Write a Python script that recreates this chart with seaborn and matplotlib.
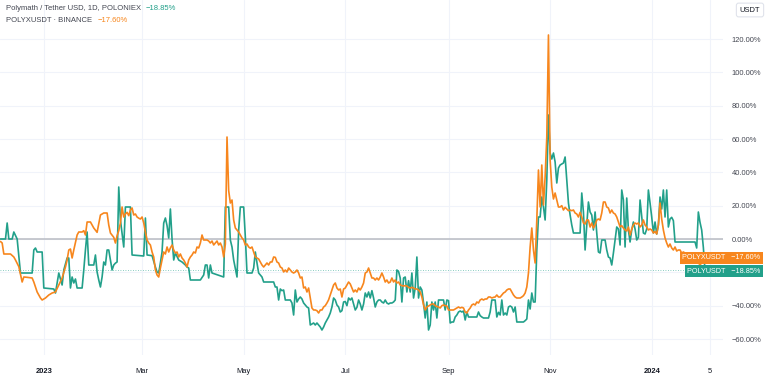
import numpy as np
import pandas as pd
import matplotlib
matplotlib.use("Agg")
import matplotlib.pyplot as plt
import seaborn as sns

# days counted from the first bar of the chart
start = pd.Timestamp("2022-12-06")

# Polymath / Tether USD, 1D, POLONIEX  (% change)
poly_days = [0, 3, 4, 5, 7, 8, 10, 11, 12, 19, 20, 21, 22, 25, 26, 32, 33, 34, 35, 36,
             37, 38, 40, 41, 42, 43, 44, 45, 46, 49, 50, 51, 52, 53, 56, 57, 58, 59, 60, 61,
             62, 63, 64, 65, 67, 68, 69, 70, 71, 72, 74, 75, 78, 79, 86, 87, 88, 91, 93, 94,
             95, 96, 97, 98, 99, 100, 101, 102, 103, 104, 105, 107, 109, 111, 112, 113, 114, 120, 122, 123,
             124, 125, 126, 127, 134, 135, 137, 138, 139, 140, 142, 143, 144, 146, 147, 148, 151, 152, 153, 154,
             155, 156, 157, 158, 164, 165, 166, 167, 168, 169, 170, 171, 174, 175, 176, 177, 178, 179, 180, 181,
             182, 183, 184, 185, 186, 188, 189, 190, 191, 192, 193, 194, 195, 196, 197, 198, 199, 200, 201, 202,
             203, 204, 205, 206, 207, 208, 209, 210, 211, 212, 213, 214, 215, 216, 217, 218, 219, 220, 221, 222,
             223, 224, 225, 226, 227, 228, 229, 230, 231, 232, 233, 234, 235, 236, 237, 238, 239, 240, 241, 242,
             243, 244, 245, 246, 247, 248, 249, 250, 251, 252, 253, 254, 255, 256, 257, 258, 259, 260, 261, 262,
             263, 266, 267, 268, 269, 270, 271, 272, 273, 274, 275, 276, 277, 278, 279, 280, 281, 286, 287, 288,
             289, 290, 293, 294, 295, 297, 298, 299, 300, 301, 302, 303, 304, 305, 306, 307, 308, 309, 310, 314,
             315, 316, 317, 318, 319, 320, 321, 322, 323, 324, 325, 326, 327, 328, 329, 330, 331, 332, 333, 334,
             335, 336, 338, 339, 340, 341, 342, 343, 344, 348, 349, 350, 351, 352, 353, 354, 355, 356, 357, 358,
             359, 360, 361, 363, 364, 365, 366, 367, 368, 369, 370, 371, 372, 373, 374, 375, 376, 377, 378, 379,
             380, 381, 382, 383, 384, 385, 386, 387, 388, 389, 390, 391, 392, 393, 394, 395, 396, 397, 398, 399,
             400, 401, 402, 403, 404, 405, 417, 418, 419, 420, 421, 422, 423]
poly_pct = [0, 0, 9.6, 0, 0, 4.2, 0, -10, -20.4, -20.4, -6.6, -5.4, -7.8, -7.8, -29.4, -30, -32.4, -26.4, -20.4, -24,
            -27.6, -18.6, -11.4, -11.4, -29.4, -22.8, -26.4, -24, -29.4, -29.4, -18.6, -6.6, 4.2, -15.6, -15.6, -9.6, -19.8, -24.6, -28.8, -22.8,
            -13.8, -15.6, -6.6, -6.6, -18.6, -15.6, -14.5, -13.8, 31.2, 11.4, -4.8, 19.2, 19.2, -9.6, -10.2, 12.6, -9.6, -10, -16.8, -19.8,
            -20.4, -14.4, -7.8, 9.6, 12.6, 8, 0.6, 18, 0, -12.6, -8.4, -12.6, -13.8, -15.6, -16.8, -17.4, -24.6, -24.6, -21.6, -15.6,
            -15.6, -23.4, -15.6, -20.4, -22.8, 19.2, 19.2, -0.6, -4.8, -12.6, -22.8, 5.4, 19.2, 19.2, 1.2, -20.4, -20.4, -17.4, -7.8, -14.4,
            -20.4, -21.6, -22.8, -25.8, -25.8, -28.8, -28.8, -36.6, -30, -31, -30.6, -36.6, -36.6, -38.4, -45.6, -30.6, -37.8, -36, -34.8, -36,
            -38.4, -39.6, -40.8, -41.4, -51.6, -50.4, -51.6, -50.4, -51.6, -52.8, -54.6, -52.8, -50.4, -48.6, -46.8, -44.4, -40.8, -35.4, -36.6, -39.6,
            -40.8, -43.8, -43, -37.8, -37.5, -40, -35.4, -36.6, -35.4, -39, -42.6, -41, -36.6, -39, -42.6, -39, -32.4, -34.8, -31.8, -35.4,
            -31, -35.4, -40.8, -37.8, -36.6, -36.6, -37.8, -38.4, -36.6, -38.4, -39, -38.4, -38.4, -37.8, -36.6, -18.6, -19.5, -23.4, -37.8, -23.4,
            -22.8, -31.8, -25, -31.8, -20.4, -35.4, -29.4, -10.8, -35.4, -28.8, -30.6, -38.4, -47.4, -37.8, -54.6, -51.6, -37.8, -42.6, -37.8, -47.4,
            -36.6, -36.6, -42.6, -36.6, -37, -50.4, -49.8, -49.8, -46.8, -45.6, -43.8, -43.2, -43.8, -43.2, -48.6, -43.8, -46.8, -46.8, -43.8, -46,
            -46.8, -47.4, -47.4, -43.8, -36.6, -36.6, -46.8, -44, -45.6, -36.6, -45.6, -44.4, -45.6, -40.8, -40.2, -40.8, -43.8, -40.8, -49.8, -49.8,
            -49, -48, -36.6, -42, -32.4, -37.8, -37.8, -6.6, 13.2, 13.2, 25.2, 19.2, 11.4, 35.4, 74.4, 51.6, 48, 51.6, 46.2, 33.6,
            42.6, 44.4, 45.6, 49.2, 35.4, 21.6, 14.4, 8.4, 3.6, 3.6, 27.6, 16.2, -6.6, 8.4, 22.2, 16.2, 14.4, 5.4, 16.2, 3.6,
            -7.8, -8.4, -0.6, -0.6, -6.6, -10.8, -11.4, -15.6, -8.4, -0.6, 7.2, 6, -3.6, 29.4, 23.4, -4.8, 24.6, 5.4, -1.8, 5.4,
            10.2, 6, -0.6, 1, 23.4, 13.2, 3.6, 3, 6, 29.4, 21.6, 13.2, 3.6, 10.2, 3, 8.4, 25.2, 18, 29.4, 13.2,
            29.4, 7.2, 12, 13, 11, -1.8, -1.8, -5.4, 16.2, 10, 5.4, -5, -18.85]

# POLYXUSDT · BINANCE  (% change)
polyx_days = [0, 1, 2, 6, 8, 9, 11, 13, 14, 16, 19, 20, 22, 24, 25, 27, 29, 31, 33, 35,
              37, 39, 40, 41, 42, 43, 44, 46, 47, 49, 50, 51, 52, 54, 56, 58, 60, 62, 64, 65,
              66, 68, 69, 70, 71, 72, 73, 74, 75, 76, 77, 78, 79, 80, 81, 82, 83, 84, 85, 86,
              87, 88, 89, 90, 91, 92, 93, 94, 95, 96, 97, 98, 99, 100, 101, 102, 103, 104, 105, 106,
              107, 108, 109, 110, 111, 112, 113, 114, 115, 116, 117, 118, 119, 120, 121, 122, 123, 124, 125, 126,
              127, 128, 129, 130, 131, 132, 133, 134, 135, 136, 137, 138, 139, 140, 141, 143, 144, 145, 146, 147,
              148, 149, 150, 151, 152, 153, 154, 155, 156, 157, 158, 159, 160, 161, 162, 163, 164, 165, 166, 167,
              168, 169, 170, 171, 172, 173, 174, 175, 176, 177, 178, 179, 180, 181, 182, 183, 184, 185, 186, 187,
              188, 189, 190, 191, 192, 193, 194, 195, 196, 197, 198, 199, 200, 201, 202, 203, 204, 205, 206, 207,
              209, 210, 211, 212, 213, 214, 215, 216, 217, 218, 219, 220, 221, 222, 223, 224, 225, 226, 227, 228,
              229, 230, 231, 232, 233, 234, 235, 236, 237, 238, 239, 240, 241, 242, 243, 244, 245, 246, 247, 248,
              249, 250, 251, 252, 253, 254, 255, 256, 257, 258, 259, 260, 261, 262, 263, 264, 265, 266, 267, 268,
              269, 270, 271, 272, 273, 274, 275, 276, 277, 278, 279, 280, 281, 282, 283, 284, 285, 286, 287, 288,
              289, 290, 291, 292, 293, 294, 295, 296, 297, 298, 299, 300, 301, 302, 303, 304, 305, 306, 307, 308,
              309, 310, 311, 312, 313, 314, 315, 316, 317, 318, 319, 320, 321, 322, 323, 324, 325, 326, 327, 328,
              329, 330, 331, 332, 333, 334, 335, 336, 337, 338, 339, 340, 341, 342, 343, 344, 345, 346, 347, 348,
              349, 350, 351, 352, 353, 354, 355, 356, 357, 358, 359, 360, 361, 362, 363, 364, 365, 366, 367, 368,
              369, 370, 371, 372, 373, 374, 375, 376, 377, 378, 379, 380, 381, 382, 383, 384, 385, 386, 387, 388,
              389, 390, 391, 392, 393, 394, 395, 396, 397, 398, 399, 400, 401, 402, 403, 404, 405, 406, 407, 408,
              409, 410, 411, 423]
polyx_pct = [-1.5, -2.4, -9, -9, -10.8, -12.6, -16.6, -25.8, -22.8, -23, -23.4, -25.8, -31.8, -35.4, -36.6, -35.4, -33.6, -32.4, -31.8, -27.6,
             -23.4, -16.8, -12.6, -6.6, -6, -11.4, -6.6, 2.4, 4.2, 4.2, 5, 2.4, 10.2, 10.2, 6.6, 4, 14.4, 15.6, 15.6, 8.4,
             3.6, 1, -2.4, 2, 5, 9.6, 19.2, 13.2, 15, 16, 14, 17.4, 18.6, 14.4, 15, 13.2, 12.5, 12, 13.2, 9.6,
             4.2, -0.6, -2.4, -3.6, -7.8, -10.8, -18.6, -21.6, -22.8, -17.4, -12.6, -7.8, -9, -4.8, -7.8, -5.4, -3.6, -6.6, -8.4, -7.8,
             -10.8, -9, -11.4, -12.6, -14.4, -16.8, -12.6, -10.8, -9.6, -7.8, -8.4, -4.8, -5.4, -2.4, 2.4, -0.6, -0.6, -0.6, -1.2, -2.4,
             -1.2, -3.6, -2.4, -1.2, -3.6, -2.4, -4.8, -10.8, -3, 61.2, 29, 21.6, 23.4, 11.4, 6.6, 4.2, 2.4, 0.6, -0.6, -3.6,
             -3, -4.8, -5.5, -4.8, -7.8, -10.8, -11.4, -12, -13.8, -15.6, -16.8, -15.6, -14.4, -15.6, -13.8, -13.8, -10.8, -11, -13.8, -14.4,
             -16.8, -17.4, -19.8, -18.6, -19.8, -17.4, -18.6, -19.8, -20.4, -19.8, -18.6, -20.4, -23.4, -22.8, -29.4, -28.8, -31.8, -29.4, -35.4, -41.4,
             -42.6, -42.6, -43, -44.4, -42.6, -42.6, -40.8, -40, -38.4, -36.5, -33.6, -30.6, -27.6, -26.4, -29.4, -30.6, -30, -34.8, -30, -29.4,
             -25.8, -27, -29.4, -31.8, -30.6, -31.8, -29.4, -30.6, -28.8, -26.4, -20.4, -19.8, -17.4, -20.4, -23.4, -23.4, -24.6, -23.4, -24.6, -22.8,
             -20.4, -22.8, -25.8, -24.6, -26.4, -25.8, -23.4, -25.8, -24.6, -26.4, -25.8, -27.6, -28, -28.2, -28, -28.2, -29, -29.4, -29, -29.4,
             -30, -30, -30.6, -31.8, -34.8, -39.6, -42.6, -40.8, -40.2, -39.6, -39, -39, -40, -40.5, -40.8, -41.4, -40, -39.6, -40, -40.2,
             -42.6, -42.6, -42.6, -42.6, -42, -41.4, -40.8, -41.4, -41, -41.4, -43.8, -44.4, -42.6, -41.4, -39.6, -39, -39.6, -37.8, -38.4, -36.6,
             -36, -36.6, -36, -36, -34.8, -34.8, -35.4, -35, -34.8, -33.6, -34.8, -34.8, -33.6, -32.4, -31.8, -30.6, -30, -30, -31.8, -33.6,
             -34.8, -35.4, -35.4, -35.4, -34.8, -34, -32.4, -28.8, -20.4, -4.8, 6.6, -6.6, -14.4, 11.4, 41.4, 19.2, 44.4, 20.4, 37.2, 61.2,
             122.4, 47.4, 31.2, 24, 27.6, 23.4, 19.2, 19.2, 20, 17.4, 19, 18, 17, 17.4, 17, 17.4, 15.6, 15, 13.2, 16,
             13.2, 9.6, 9, 11.4, 11.4, 7.2, 9.6, 6.6, 8.4, 11.4, 12, 11.4, 15.6, 22.2, 22.2, 19.2, 18.6, 15.6, 17.4, 15.6,
             15, 13.2, 10.2, 7.2, 8, 6.6, 5.4, 4.8, 7.2, 2.4, 6, 8.4, 9.6, 9, 9.6, 7.2, 8.4, 11.4, 8.4, 7.2,
             5.4, 6, 5.4, 3.6, 4.5, 3, 8.4, 21.6, 12, 5.4, 0.6, -2.4, -4.8, -3, -5.4, -6.6, -4.8, -7.2, -6.6, -6.6,
             -8.4, -7.8, -8.4, -17.6]

x_tick_dates = ["2023-01-01", "2023-03-01", "2023-05-01", "2023-07-01", "2023-09-01",
                "2023-11-01", "2024-01-01", "2024-02-05"]
x_tick_labels = ["2023", "Mar", "May", "Jul", "Sep", "Nov", "2024", "5"]
y_ticks = [-60, -40, -20, 0, 20, 40, 60, 80, 100, 120]
y_tick_shown = [True, True, False, True, True, True, True, True, True, True]

green = "#22a08a"
orange = "#f7861d"
text_col = "#434651"

sns.set_theme(style="white")
plt.rcParams["font.family"] = ["Liberation Sans", "DejaVu Sans"]

poly = pd.DataFrame({"date": start + pd.to_timedelta(poly_days, unit="D"), "pct": poly_pct})
polyx = pd.DataFrame({"date": start + pd.to_timedelta(polyx_days, unit="D"), "pct": polyx_pct})

W, H = 768, 382
fig = plt.figure(figsize=(W / 100, H / 100), dpi=100)
ax = fig.add_axes([0, 27 / H, 723 / W, 355 / H])

ax.axhline(0, color="#b8bbc3", lw=1.1, zorder=1)
ax.axhline(poly_pct[-1], color=green, lw=0.6, ls=(0, (1, 2)), alpha=0.7, zorder=1)

sns.lineplot(data=poly, x="date", y="pct", color=green, lw=1.2, ax=ax, legend=False, zorder=3)
sns.lineplot(data=polyx, x="date", y="pct", color=orange, lw=1.2, ax=ax, legend=False, zorder=4)

ax.set_xlim(start - pd.Timedelta(days=0.3), start + pd.Timedelta(days=433.8))
ax.set_ylim(-69.6, 143.4)

ax.set_xticks(pd.to_datetime(x_tick_dates))
ax.set_xticklabels(x_tick_labels)
for lab in ax.get_xticklabels():
    if lab.get_text() in ("2023", "2024"):
        lab.set_fontweight("bold")
ax.yaxis.tick_right()
ax.set_yticks(y_ticks)
ax.set_yticklabels([(f"{v:.2f}%".replace("-", "\u2212") if s else "") for v, s in zip(y_ticks, y_tick_shown)])
ax.tick_params(axis="y", length=0, pad=6, labelsize=5.4, labelcolor=text_col)
ax.tick_params(axis="x", length=2.5, width=0.6, color="#d1d4dc", pad=7, labelsize=5.4, labelcolor="#131722")
ax.grid(True, color="#f0f3fa", lw=0.8)
ax.set_axisbelow(True)
ax.set_xlabel("")
ax.set_ylabel("")
for s in ax.spines.values():
    s.set_visible(False)

# last-value labels on the price scale
ax.annotate("POLYXUSDT   \u221217.60%", xy=(1, polyx_pct[-1]), xycoords=("axes fraction", "data"),
            xytext=(27, 7.5), textcoords="offset points", ha="right", va="center",
            color="white", fontsize=5.2, annotation_clip=False, zorder=6,
            bbox=dict(boxstyle="square,pad=0.3", fc=orange, ec="none"))
ax.annotate("POLYUSDT   \u221218.85%", xy=(1, poly_pct[-1]), xycoords=("axes fraction", "data"),
            xytext=(27, -0.5), textcoords="offset points", ha="right", va="center",
            color="white", fontsize=5.2, annotation_clip=False, zorder=6,
            bbox=dict(boxstyle="square,pad=0.3", fc=green, ec="none"))

fig.text(750 / W, 1 - 10 / H, "USDT", ha="center", va="center", fontsize=5.4, color="#131722",
         bbox=dict(boxstyle="round,pad=0.45,rounding_size=0.3", fc="white", ec="#e0e3eb", lw=0.8))

# legend lines
fig.canvas.draw()
r = fig.canvas.get_renderer()
t1 = fig.text(6 / W, 1 - 9 / H, "Polymath / Tether USD, 1D, POLONIEX", ha="left", va="center",
              fontsize=5.5, color=text_col)
t2 = fig.text(6 / W, 1 - 20.5 / H, "POLYXUSDT \u00b7 BINANCE", ha="left", va="center",
              fontsize=5.5, color=text_col)
b1 = t1.get_window_extent(r)
b2 = t2.get_window_extent(r)
fig.text((b1.x1 + 5) / W, 1 - 9 / H, "\u221218.85%", ha="left", va="center", fontsize=5.5, color=green)
fig.text((b2.x1 + 5) / W, 1 - 20.5 / H, "\u221217.60%", ha="left", va="center", fontsize=5.5, color=orange)

fig.savefig("out.png", dpi=100)
